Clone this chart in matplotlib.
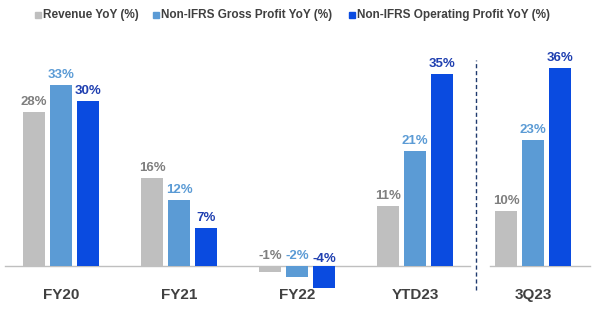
import matplotlib
matplotlib.use("Agg")
import matplotlib.pyplot as plt
from matplotlib.patches import Rectangle

plt.rcParams['font.family'] = ['Liberation Sans', 'DejaVu Sans']

categories = ["FY20", "FY21", "FY22", "YTD23", "3Q23"]
series_names = ["Revenue YoY (%)", "Non-IFRS Gross Profit YoY (%)", "Non-IFRS Operating Profit YoY (%)"]
revenue = [28, 16, -1, 11, 10]
gross = [33, 12, -2, 21, 23]
operating = [30, 7, -4, 35, 36]

bar_colors = ["#bfbfbf", "#5b9bd5", "#0a4be0"]
label_colors = ["#7f7f7f", "#5b9bd5", "#1f3fb0"]

fig = plt.figure(figsize=(6, 3.23), dpi=100)
ax = fig.add_axes([0, 0, 1, 1])
ax.set_xlim(-61/118, (600-61)/118)
ax.set_ylim(-57/5.5, 266/5.5)
ax.axis('off')

w = 22/118
off = 27/118
for si, vals in enumerate([revenue, gross, operating]):
    for ci, v in enumerate(vals):
        x = ci + (si-1)*off
        ax.bar(x, v, width=w, color=bar_colors[si], zorder=2)
        if v >= 0:
            ax.text(x, v + 0.7, f"{v}%", ha='center', va='bottom', fontsize=9.5,
                    fontweight='bold', color=label_colors[si])
        else:
            ax.text(x, 0.7 if si < 2 else 0.1, f"{v}%", ha='center', va='bottom', fontsize=9.5,
                    fontweight='bold', color=label_colors[si])

# baseline segments
px = lambda p: (p-61)/118
ax.plot([px(5), px(470)], [0, 0], color="#bfbfbf", lw=1, zorder=1)
ax.plot([px(490), px(590)], [0, 0], color="#bfbfbf", lw=1, zorder=1)
# dashed separator
ax.plot([px(476), px(476)], [(266-290)/5.5, (266-60)/5.5], color="#1f3a6e",
        lw=1, ls=(0, (3, 2)), zorder=1)

for ci, c in enumerate(categories):
    ax.text(ci, -29/5.5, c, ha='center', va='center', fontsize=11,
            fontweight='bold', color="#404040")

# legend
sq_x = [35, 153, 349]
for i, name in enumerate(series_names):
    fig.patches.append(Rectangle((sq_x[i]/600, 1-18/323), 6/600, 6/323,
                                 transform=fig.transFigure, color=bar_colors[i]))
    fig.text((sq_x[i]+8)/600, 1-15/323, name, ha='left', va='center', fontsize=8.5,
             fontweight='bold', color="#404040")

fig.savefig("out.png", dpi=100)
